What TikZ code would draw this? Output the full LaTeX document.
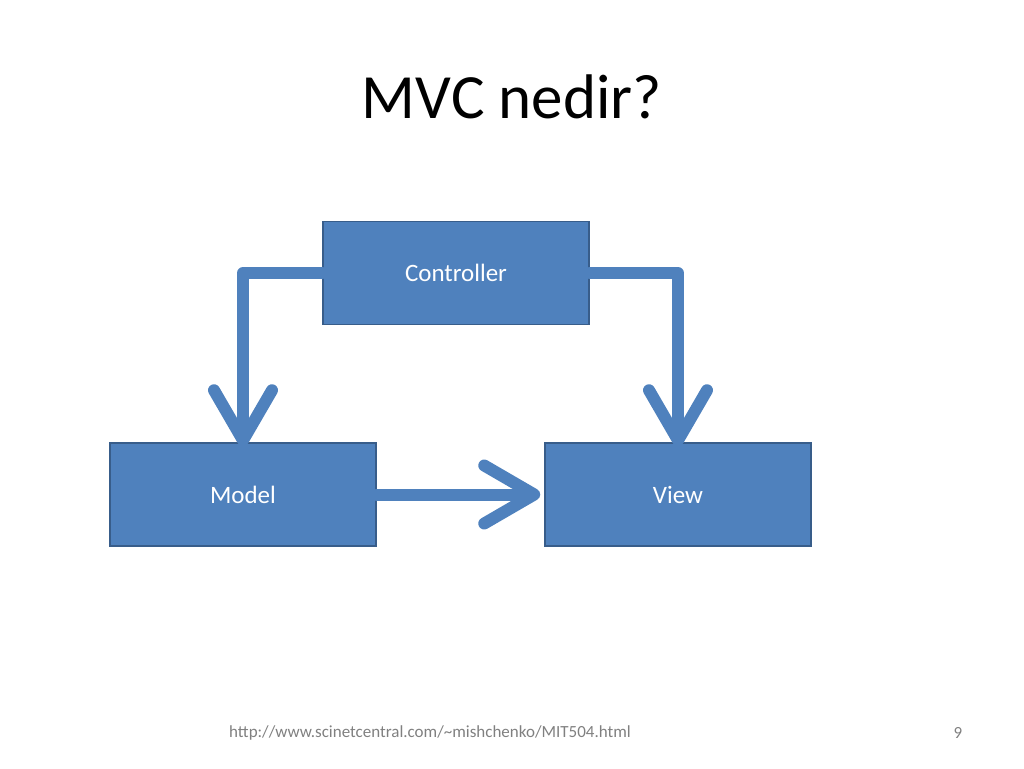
\documentclass[tikz,border=0pt]{standalone}
\usepackage{fontspec}
\setmainfont{Carlito}
\usetikzlibrary{arrows.meta}
\definecolor{boxfill}{HTML}{4F81BD}
\definecolor{boxline}{HTML}{385D8A}
\begin{document}
\begin{tikzpicture}[x=1pt,y=-1pt,
  box/.style={draw=boxline,line width=1.5pt,fill=boxfill,minimum width=266pt,minimum height=103pt,inner sep=0pt,text=white,font=\fontsize{25}{30}\selectfont},
  conn/.style={draw=boxfill,line width=12pt,line join=round,line cap=round,-{Straight Barb[length=50pt,width=58pt,line cap=round,line join=round]}}]
\useasboundingbox (0,0) rectangle (1024,768);
\node[font=\fontsize{63}{70}\selectfont] (title) at (512,97) {MVC nedir?};
\node[box] (ctrl) at (456,273) {Controller};
\node[box] (model) at (243,494.5) {Model};
\node[box] (view) at (678,494.5) {View};
\coordinate (cl) at (243,273);
\coordinate (cr) at (678,273);
\draw[conn] (ctrl.west) -- (cl) -- ([yshift=-4pt]model.north);
\draw[conn] (ctrl.east) -- (cr) -- ([yshift=-4pt]view.north);
\draw[conn] (model.east) -- ([xshift=-4pt]view.west);
\node[font=\fontsize{17}{20}\selectfont,text=gray] (url) at (430,733) {http://www.scinetcentral.com/\textasciitilde mishchenko/MIT504.html};
\node[font=\fontsize{17}{20}\selectfont,text=gray] (pg) at (958,733) {9};
\end{tikzpicture}
\end{document}
